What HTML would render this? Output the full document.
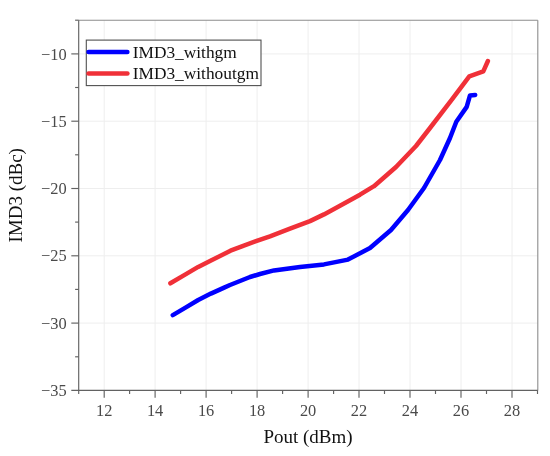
<!DOCTYPE html>
<html><head><meta charset="utf-8"><title>IMD3 vs Pout</title>
<style>
html,body{margin:0;padding:0;background:#fff;}
body{width:550px;height:456px;overflow:hidden;}
svg{display:block;}
text{font-family:"Liberation Serif","Times New Roman",serif;}
.tk{font-size:16.4px;fill:#4a4a4a;}
.lb{font-size:19px;fill:#111;}
.lg{font-size:17.35px;fill:#111;}
</style></head><body>
<svg width="550" height="456" viewBox="0 0 550 456">
<rect width="550" height="456" fill="#fff"/>
<g stroke="#eeeeee" stroke-width="1"><line x1="104.2" y1="20.25" x2="104.2" y2="390.4"/><line x1="155.1" y1="20.25" x2="155.1" y2="390.4"/><line x1="206.1" y1="20.25" x2="206.1" y2="390.4"/><line x1="257.1" y1="20.25" x2="257.1" y2="390.4"/><line x1="308.1" y1="20.25" x2="308.1" y2="390.4"/><line x1="359.0" y1="20.25" x2="359.0" y2="390.4"/><line x1="410.0" y1="20.25" x2="410.0" y2="390.4"/><line x1="461.0" y1="20.25" x2="461.0" y2="390.4"/><line x1="512.0" y1="20.25" x2="512.0" y2="390.4"/><line x1="78.7" y1="323.1" x2="537.8" y2="323.1"/><line x1="78.7" y1="255.8" x2="537.8" y2="255.8"/><line x1="78.7" y1="188.5" x2="537.8" y2="188.5"/><line x1="78.7" y1="121.2" x2="537.8" y2="121.2"/><line x1="78.7" y1="53.9" x2="537.8" y2="53.9"/></g>
<polyline points="170.4,283.3 185.5,274.4 198.2,266.9 211.0,260.6 230.5,250.7 243.2,245.8 256.0,241.2 270.0,236.3 290.0,228.7 310.0,221.1 324.0,214.4 340.0,205.8 360.0,194.7 374.0,186.2 396.0,167.0 416.0,146.0 430.0,128.0 452.0,99.3 469.3,76.3 483.3,71.4 487.9,61.0" fill="none" stroke="#f03038" stroke-width="4.5" stroke-linecap="round" stroke-linejoin="round"/>
<polyline points="172.8,315.1 185.5,307.6 198.2,300.0 210.9,293.6 223.6,287.9 230.0,285.0 250.0,277.0 260.0,274.0 274.0,270.4 300.0,267.0 324.0,264.4 348.0,259.6 370.0,248.0 391.0,230.0 408.0,210.0 424.0,188.0 440.0,160.0 450.0,138.0 456.3,121.7 466.7,106.9 470.0,95.4 475.2,94.9" fill="none" stroke="#0000ff" stroke-width="4.5" stroke-linecap="round" stroke-linejoin="round"/>
<g stroke="#8c8c8c" stroke-width="1.1" fill="none"><line x1="78.7" y1="20.25" x2="537.8" y2="20.25"/><line x1="537.8" y1="20.25" x2="537.8" y2="390.4"/></g>
<g stroke="#626262" stroke-width="1.15"><line x1="78.7" y1="20.25" x2="78.7" y2="394.0"/><line x1="71.3" y1="390.4" x2="537.8" y2="390.4"/><line x1="104.2" y1="390.4" x2="104.2" y2="397.79999999999995"/><line x1="155.1" y1="390.4" x2="155.1" y2="397.79999999999995"/><line x1="206.1" y1="390.4" x2="206.1" y2="397.79999999999995"/><line x1="257.1" y1="390.4" x2="257.1" y2="397.79999999999995"/><line x1="308.1" y1="390.4" x2="308.1" y2="397.79999999999995"/><line x1="359.0" y1="390.4" x2="359.0" y2="397.79999999999995"/><line x1="410.0" y1="390.4" x2="410.0" y2="397.79999999999995"/><line x1="461.0" y1="390.4" x2="461.0" y2="397.79999999999995"/><line x1="512.0" y1="390.4" x2="512.0" y2="397.79999999999995"/><line x1="129.6" y1="390.4" x2="129.6" y2="394.0"/><line x1="180.6" y1="390.4" x2="180.6" y2="394.0"/><line x1="231.6" y1="390.4" x2="231.6" y2="394.0"/><line x1="282.6" y1="390.4" x2="282.6" y2="394.0"/><line x1="333.6" y1="390.4" x2="333.6" y2="394.0"/><line x1="384.5" y1="390.4" x2="384.5" y2="394.0"/><line x1="435.5" y1="390.4" x2="435.5" y2="394.0"/><line x1="486.5" y1="390.4" x2="486.5" y2="394.0"/><line x1="537.5" y1="390.4" x2="537.5" y2="394.0"/><line x1="71.3" y1="323.1" x2="78.7" y2="323.1"/><line x1="71.3" y1="255.8" x2="78.7" y2="255.8"/><line x1="71.3" y1="188.5" x2="78.7" y2="188.5"/><line x1="71.3" y1="121.2" x2="78.7" y2="121.2"/><line x1="71.3" y1="53.9" x2="78.7" y2="53.9"/><line x1="75.10000000000001" y1="356.8" x2="78.7" y2="356.8"/><line x1="75.10000000000001" y1="289.4" x2="78.7" y2="289.4"/><line x1="75.10000000000001" y1="222.1" x2="78.7" y2="222.1"/><line x1="75.10000000000001" y1="154.8" x2="78.7" y2="154.8"/><line x1="75.10000000000001" y1="87.5" x2="78.7" y2="87.5"/><line x1="75.10000000000001" y1="20.2" x2="78.7" y2="20.2"/></g>
<text class="tk" x="104.2" y="416.2" text-anchor="middle">12</text><text class="tk" x="155.1" y="416.2" text-anchor="middle">14</text><text class="tk" x="206.1" y="416.2" text-anchor="middle">16</text><text class="tk" x="257.1" y="416.2" text-anchor="middle">18</text><text class="tk" x="308.1" y="416.2" text-anchor="middle">20</text><text class="tk" x="359.0" y="416.2" text-anchor="middle">22</text><text class="tk" x="410.0" y="416.2" text-anchor="middle">24</text><text class="tk" x="461.0" y="416.2" text-anchor="middle">26</text><text class="tk" x="512.0" y="416.2" text-anchor="middle">28</text><text class="tk" x="66.6" y="396.0" text-anchor="end">−35</text><text class="tk" x="66.6" y="328.7" text-anchor="end">−30</text><text class="tk" x="66.6" y="261.4" text-anchor="end">−25</text><text class="tk" x="66.6" y="194.1" text-anchor="end">−20</text><text class="tk" x="66.6" y="126.8" text-anchor="end">−15</text><text class="tk" x="66.6" y="59.5" text-anchor="end">−10</text>
<text class="lb" x="308" y="442.6" text-anchor="middle">Pout (dBm)</text>
<text class="lb" transform="translate(22.2,195.3) rotate(-90)" text-anchor="middle">IMD3 (dBc)</text>
<rect x="86.3" y="40.1" width="174.7" height="45.5" fill="#fff" stroke="#505050" stroke-width="1.1"/>
<line x1="88.5" y1="51.9" x2="127.4" y2="51.9" stroke="#0000ff" stroke-width="4.5" stroke-linecap="round"/><line x1="88.5" y1="73.5" x2="127.4" y2="73.5" stroke="#f03038" stroke-width="4.5" stroke-linecap="round"/>
<text class="lg" x="132.7" y="57.8">IMD3_withgm</text><text class="lg" x="132.7" y="79.1">IMD3_withoutgm</text>
</svg></body></html>
